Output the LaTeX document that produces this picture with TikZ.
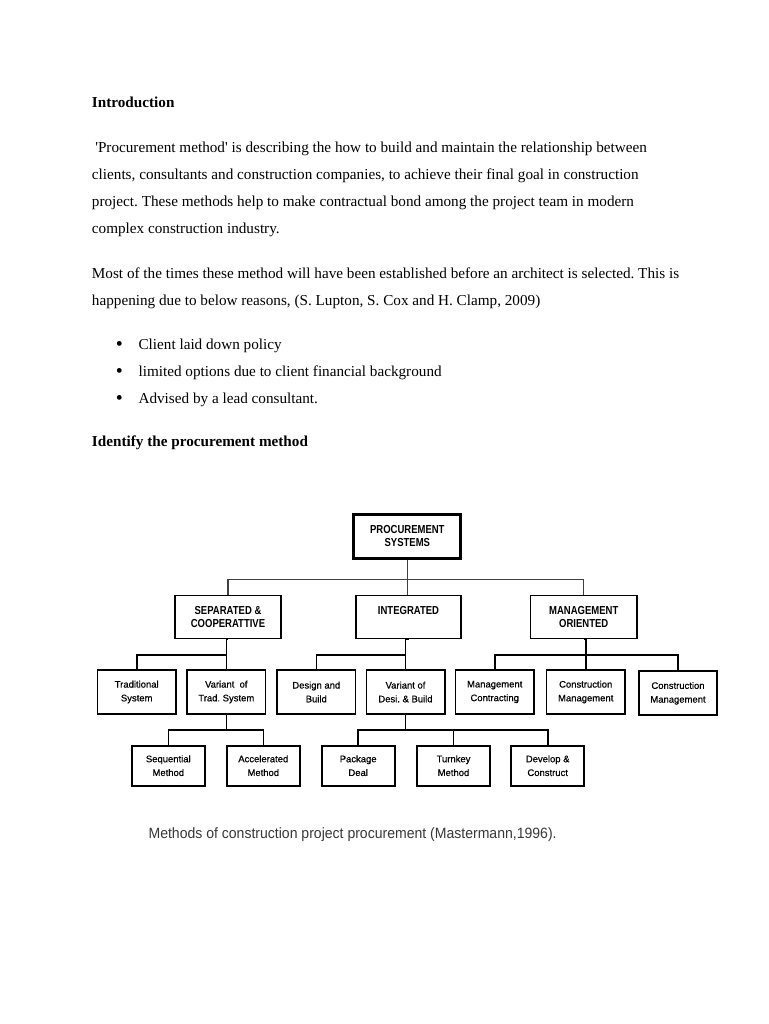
\documentclass[tikz,border=0pt]{standalone}
\usepackage{fontspec}
\setmainfont{Liberation Serif}
\newfontfamily\boxfont[FakeBold=0.6]{Liberation Sans}
\newfontfamily\narrowfont[FakeStretch=0.82]{Liberation Sans}
\newfontfamily\capfont[FakeStretch=0.94]{Liberation Sans}

\tikzset{
  bodytext/.style={anchor=base west, inner sep=0pt, font=\fontsize{11.4}{13}\selectfont},
  headtext/.style={anchor=base west, inner sep=0pt, font=\fontsize{11.4}{13}\selectfont\bfseries},
  dottext/.style={anchor=base west, inner sep=0pt, font=\fontsize{15}{13}\selectfont},
  topbox/.style={rectangle, draw, line width=2.25pt, inner sep=0pt, align=center,
    minimum width=80.5pt, minimum height=33pt, font=\narrowfont\bfseries\fontsize{8.7}{10}\selectfont},
  groupbox/.style={rectangle, draw, line width=1.1pt, inner sep=0pt, align=center,
    minimum height=32.3pt, font=\narrowfont\bfseries\fontsize{8.7}{10}\selectfont},
  methodbox/.style={rectangle, draw, line width=1pt, inner sep=0pt, align=center,
    minimum width=59pt, minimum height=33.2pt, font=\boxfont\fontsize{7.1}{10.3}\selectfont},
  subbox/.style={rectangle, draw, line width=1.5pt, inner sep=0pt, align=center,
    minimum width=55pt, minimum height=30pt, font=\boxfont\fontsize{7.1}{10.3}\selectfont},
  upline/.style={draw=black!75, line width=0.8pt},
  lowline/.style={draw=black, line width=1.2pt}
}

\begin{document}
\frenchspacing
\begin{tikzpicture}[x=0.75pt, y=-0.75pt]
  \fill[white] (0,0) rectangle (768,1024);
  \useasboundingbox (0,0) rectangle (768,1024);
  % Text
  \node (intro) [headtext] at (91.7, 107.7) {Introduction};
  \node (lineA) [bodytext] at (95, 152.7) {\textquotesingle Procurement method\textquotesingle{} is describing the how to build and maintain the relationship between};
  \node (lineB) [bodytext] at (91.7, 179.7) {clients, consultants and construction companies, to achieve their final goal in construction};
  \node (lineC) [bodytext] at (91.7, 206.7) {project. These methods help to make contractual bond among the project team in modern};
  \node (lineD) [bodytext] at (91.7, 233.7) {complex construction industry.};
  \node (lineE) [bodytext] at (91.7, 278.3) {Most of the times these method will have been established before an architect is selected. This is};
  \node (lineF) [bodytext] at (91.7, 305.3) {happening due to below reasons, (S. Lupton, S. Cox and H. Clamp, 2009)};
  % Bullets
  \node (dotA) [dottext] at (115.5, 350.3) {•};
  \node (itemA) [bodytext] at (138.3, 349.3) {Client laid down policy};
  \node (dotB) [dottext] at (115.5, 377.3) {•};
  \node (itemB) [bodytext] at (138.3, 376.3) {limited options due to client financial background};
  \node (dotC) [dottext] at (115.5, 404.3) {•};
  \node (itemC) [bodytext] at (138.3, 403.3) {Advised by a lead consultant.};
  \node (ident) [headtext] at (91.7, 446.7) {Identify the procurement method};
  % Nodes
  \node (top) [topbox] at (407.3, 536) {PROCUREMENT\\SYSTEMS};
  \node (sep) [groupbox, minimum width=79.5pt] at (228, 617) {SEPARATED \&\\COOPERATTIVE};
  \node (int) [groupbox, minimum width=79pt] at (408.5, 617) {INTEGRATED\\\phantom{X}};
  \node (man) [groupbox, minimum width=80pt] at (583.7, 617) {MANAGEMENT\\ORIENTED};
  \node (trad) [methodbox] at (136.7, 692) {Traditional\\System};
  \node (vtrad) [methodbox] at (226.3, 692) {Variant\ \ of\\Trad. System};
  \node (dab) [methodbox] at (316.3, 692) {Design and\\Build};
  \node (vdab) [methodbox] at (405.5, 692) {Variant of\\Desi. \& Build};
  \node (mc) [methodbox] at (494.7, 692) {Management\\Contracting};
  \node (cm) [methodbox] at (585.7, 692) {Construction\\Management};
  \node (cmb) [methodbox, line width=1.5pt] at (678, 693.3) {Construction\\Management};
  \node (seq) [subbox] at (168.3, 765.7) {Sequential\\Method};
  \node (acc) [subbox] at (263.3, 765.7) {Accelerated\\Method};
  \node (pkg) [subbox] at (358.2, 765.7) {Package\\Deal};
  \node (turn) [subbox] at (453.5, 765.7) {Turnkey\\Method};
  \node (dev) [subbox] at (547.7, 765.7) {Develop \&\\Construct};
  % Arrows
  \draw[upline] (sep.north) -- ++(0,-15) -| (man.north);
  \draw[upline] (top.south) -- (top.south |- int.north);
  \draw[lowline] (trad.north) -- ++(0,-14.5) -| (vtrad.north);
  \draw[lowline] (vtrad.north) |- (sep.south);
  \draw[lowline] (dab.north) -- ++(0,-14.5) -| (vdab.north);
  \draw[lowline] (vdab.north) |- (int.south);
  \draw[lowline] (mc.north) -- ++(0,-14.5) -| (cmb.north);
  \draw[lowline] (cm.north) |- (man.south);
  \draw[lowline] (seq.north) -- ++(0,-15) -| (acc.north);
  \draw[lowline] (vtrad.south) -- ++(0,15.5);
  \draw[lowline] (pkg.north) -- ++(0,-15) -| (dev.north);
  \draw[lowline] (turn.north) -- ++(0,-15);
  \draw[lowline] (vdab.south) -- ++(0,15.5);
  % Caption
  \node (caption) [anchor=base west, inner sep=0pt, text=black!78,
    font=\capfont\fontsize{11.2}{13}\selectfont] at (148.3, 838) {Methods of construction project procurement (Mastermann,1996).};
\end{tikzpicture}
\end{document}
